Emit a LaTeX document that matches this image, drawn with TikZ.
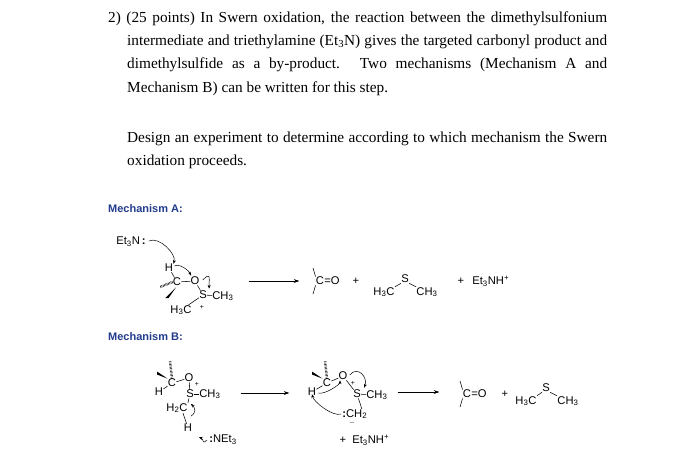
\documentclass[tikz,border=0pt]{standalone}
\usepackage{fontspec}
\setmainfont{Liberation Serif}
\newfontfamily\chemf{Liberation Sans}
\usetikzlibrary{arrows.meta}
\definecolor{mblue}{RGB}{35,60,140}
\tikzset{
 txt/.style={anchor=base west,inner sep=0pt,font=\fontsize{15.3}{17}\selectfont},
 at0/.style={inner sep=0.2pt,font=\chemf\fontsize{11.2}{12}\selectfont},
 lab/.style={anchor=west,inner sep=0pt,font=\chemf\bfseries\fontsize{11}{12}\selectfont,text=mblue},
 bond/.style={line width=0.55pt},
 rxn/.style={line width=0.55pt,-{Stealth[length=5.5pt,width=3.8pt]}},
 carr/.style={line width=0.5pt,-{Stealth[length=3.8pt,width=3pt]}},
 hash/.style={line width=2.4pt,dash pattern=on 0.5pt off 0.9pt},
}
\begin{document}
\begin{tikzpicture}[x=1pt,y=-1pt]
\useasboundingbox[fill=white] (0,0) rectangle (700,472);
% question text
\node[txt] (l1) at (108,22) {\makebox[499pt][s]{2) (25 points) In Swern oxidation, the reaction between the dimethylsulfonium}};
\node[txt] (l2) at (127,45) {\makebox[480pt][s]{intermediate and triethylamine (Et\textsubscript{3}N) gives the targeted carbonyl product and}};
\node[txt] (l3) at (127,68) {\makebox[480pt][s]{dimethylsulfide as a by-product. Two mechanisms (Mechanism A and}};
\node[txt] (l4) at (127,92) {Mechanism B) can be written for this step.};
\node[txt] (l5) at (127,142) {\makebox[480pt][s]{Design an experiment to determine according to which mechanism the Swern}};
\node[txt] (l6) at (127,165) {oxidation proceeds.};
% Mechanism A
\node[lab] (la) at (108,209) {Mechanism A:};
\node[at0,anchor=west] (et) at (116,242) {Et\textsubscript{3}N\,\textbf{:}};
\node[at0] (aH) at (169,268) {H};
\node[at0] (aC) at (177,282) {C};
\node[at0] (aO) at (195,281) {O};
\node[at0] (aS) at (203,295) {S};
\node[at0,anchor=west] (aMe) at (212,296) {CH\textsubscript{3}};
\node[at0] (aMe2) at (181,310) {H\textsubscript{3}C};
\node[at0] (aplus) at (202,307) {\scriptsize+};
\coordinate (ah1) at (160,287);
\coordinate (aw1) at (167,298);
\draw[bond] (aH) -- (aC);
\draw[bond] (aC) -- (aO);
\draw[bond] (aO) -- (aS);
\draw[bond] (aS) -- (aMe);
\draw[bond] (aS) -- (aMe2);
\draw[hash] (aC.west) -- (ah1);
\fill ([shift={(-1,1)}]aC.south) -- ([xshift=-1.6pt]aw1) -- ([xshift=1.6pt]aw1) -- cycle;
\draw[carr] ([shift={(3,-1)}]et.east) .. controls +(10,-5) and +(3,-10) .. (aH.north east);
\draw[carr] ([shift={(1,-2)}]aH.east) .. controls +(5,-3) and +(-2,-5) .. ([shift={(-4,-1)}]aO.north);
\draw[carr] ([shift={(3,-1)}]aO.east) .. controls +(8,-8) and +(0,-12) .. ([shift={(2,-2)}]aS.north east);
\node[at0] (arA1) at (248,281) {};
\node[at0] (arA2) at (300,281) {};
\draw[rxn] (arA1) -- (arA2);
% product ketone A
\node[at0] (kC) at (320,281) {C};
\node[at0,anchor=west] (kO) at ([xshift=-0.5pt]kC.east) {=O};
\coordinate (k1) at (313,268);
\coordinate (k2) at (313,294);
\draw[bond] (k1) -- (kC.north west);
\draw[bond] (k2) -- (kC.south west);
\node[at0] (pA1) at (356,281) {+};
\node[at0] (dA1) at (384,292) {H\textsubscript{3}C};
\node[at0] (dAS) at (405,279) {S};
\node[at0] (dA2) at (427,292) {CH\textsubscript{3}};
\draw[bond] (dA1.north east) -- (dAS.south west);
\draw[bond] (dAS.south east) -- (dA2.north west);
\node[at0] (pA2) at (461,281) {+};
\node[at0,anchor=west] (amA) at (472,281) {Et\textsubscript{3}NH\textsuperscript{+}};
% Mechanism B
\node[lab] (lb) at (108,337) {Mechanism B:};
\node[at0] (bC) at (172,383) {C};
\node[at0] (bO) at (189,378) {O};
\node[at0] (bplus) at (197,384) {\scriptsize+};
\node[at0] (bS) at (190,394) {S};
\node[at0,anchor=west] (bMe) at (199,394) {CH\textsubscript{3}};
\node[at0] (bH) at (159,392) {H};
\node[at0] (bCH2) at (177,408) {H\textsubscript{2}C};
\node[at0] (bH2) at (188,428) {H};
\node[at0,anchor=west] (bN) at (209,440) {\textbf{:}NEt\textsubscript{3}};
\coordinate (bh1) at (170,361);
\coordinate (bw1) at (157,373);
\draw[bond] (bC) -- (bO);
\draw[bond] (bO) -- (bS);
\draw[bond] (bS) -- (bMe);
\draw[bond] (bC) -- (bH);
\draw[bond] (bS) -- (bCH2.north east);
\draw[bond] ([xshift=6pt]bCH2.south) -- (bH2);
\draw[hash] (bC.north) -- (bh1);
\fill (bC.north west) -- ([yshift=-1.5pt]bw1) -- ([yshift=1.5pt]bw1) -- cycle;
\draw[carr] ([xshift=-2pt]bN.west) .. controls +(-6,5) and +(6,3) .. ([shift={(-10,-3)}]bN.west);
\draw[carr] ([shift={(3,3)}]bCH2.south east) .. controls +(6,-4) and +(4,4) .. ([shift={(3,1)}]bCH2.north east);
\node[at0] (arB1) at (240,393) {};
\node[at0] (arB2) at (290,393) {};
\draw[rxn] (arB1) -- (arB2);
% middle molecule
\node[at0] (mC) at (327,383) {C};
\node[at0] (mO) at (343,376) {O};
\node[at0] (mplus) at (353,383) {\scriptsize+};
\node[at0] (mS) at (357,394) {S};
\node[at0,anchor=west] (mMe) at (366,395) {CH\textsubscript{3}};
\node[at0] (mH) at (312,392) {H};
\node[at0,anchor=west] (mCH2) at (342,414) {\textbf{:}CH\textsubscript{2}};
\node[at0] (mminus) at (352,423) {\scriptsize$-$};
\coordinate (mh1) at (325,361);
\coordinate (mw1) at (312,373);
\draw[bond] (mC) -- (mO);
\draw[bond] (mO) -- (mS);
\draw[bond] (mS) -- (mMe);
\draw[bond] (mC) -- (mH);
\draw[bond] (mS) -- ([xshift=7pt]mCH2.north);
\draw[hash] (mC.north) -- (mh1);
\fill (mC.north west) -- ([yshift=-1.5pt]mw1) -- ([yshift=1.5pt]mw1) -- cycle;
\draw[carr] ([xshift=-1pt]mCH2.west) .. controls +(-8,3) and +(2,8) .. ([yshift=2pt]mH.south);
\draw[carr] ([shift={(2,1)}]mH.east) .. controls +(6,2) and +(0,4) .. ([xshift=-3pt]mO.south);
\draw[carr] ([shift={(2,-1)}]mO.east) .. controls +(8,-10) and +(4,-10) .. ([shift={(3,-2)}]mS.north east);
\node[at0] (pB1) at (343,440) {+};
\node[at0,anchor=west] (amB) at (352,440) {Et\textsubscript{3}NH\textsuperscript{+}};
\node[at0] (arB3) at (397,392) {};
\node[at0] (arB4) at (440,392) {};
\draw[rxn] (arB3) -- (arB4);
% product B
\node[at0] (qC) at (467,394) {C};
\node[at0,anchor=west] (qO) at ([xshift=-0.5pt]qC.east) {=O};
\coordinate (q1) at (460,381);
\coordinate (q2) at (460,407);
\draw[bond] (q1) -- (qC.north west);
\draw[bond] (q2) -- (qC.south west);
\node[at0] (pB2) at (505,394) {+};
\node[at0] (dB1) at (526,401) {H\textsubscript{3}C};
\node[at0] (dBS) at (546,388) {S};
\node[at0] (dB2) at (568,401) {CH\textsubscript{3}};
\draw[bond] (dB1.north east) -- (dBS.south west);
\draw[bond] (dBS.south east) -- (dB2.north west);
\end{tikzpicture}
\end{document}
